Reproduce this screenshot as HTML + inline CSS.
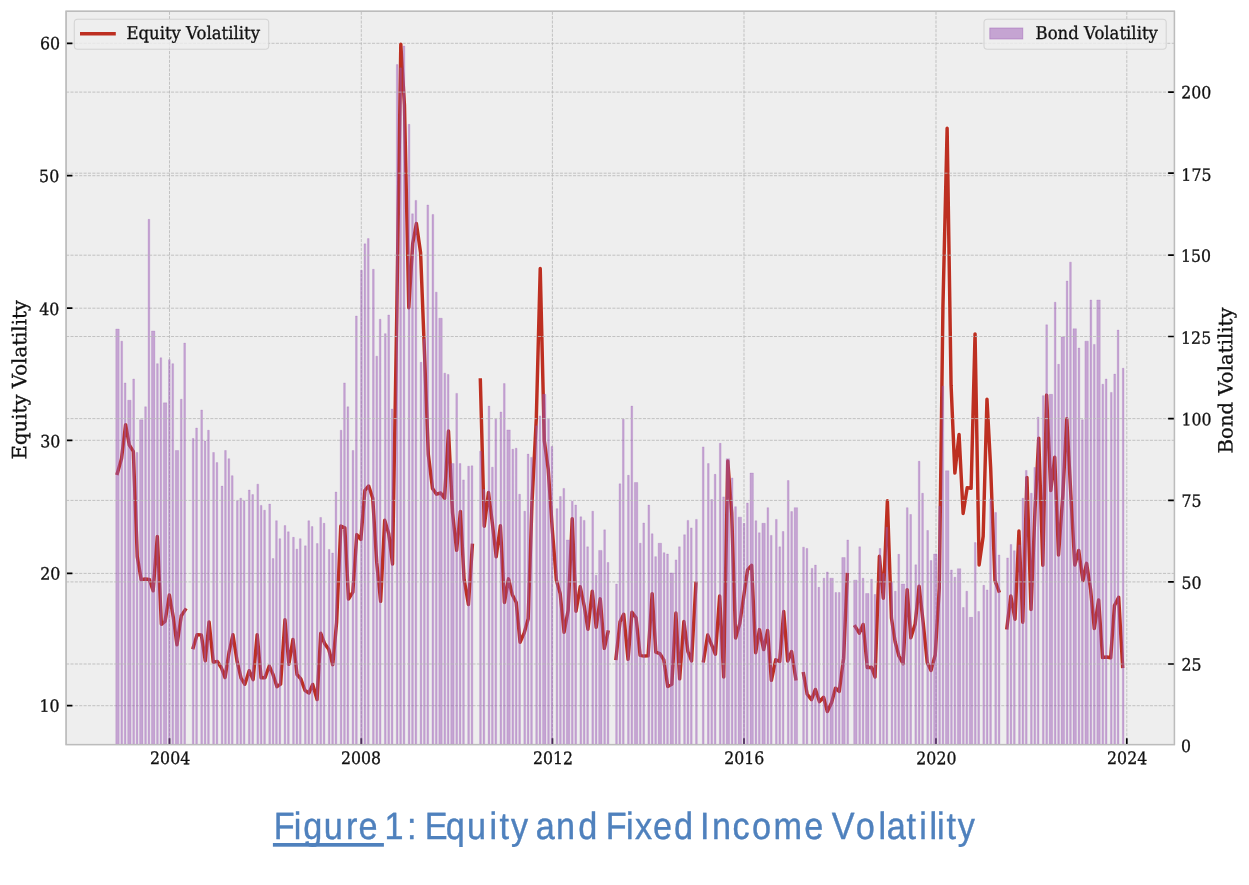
<!DOCTYPE html>
<html lang="en">
<head>
<meta charset="utf-8">
<title>Figure 1: Equity and Fixed Income Volatility</title>
<style>
html,body{margin:0;padding:0;background:#fff;}
body{width:1249px;height:885px;overflow:hidden;font-family:"Liberation Sans", sans-serif;}
svg{display:block;}
svg text{text-rendering:geometricPrecision;}
</style>
</head>
<body>
<svg width="1249" height="885" viewBox="0 0 1249 885" role="img" aria-label="Equity and Fixed Income Volatility chart">
<rect x="0" y="0" width="1249" height="885" fill="#ffffff"/>
<g>
<rect x="-5" y="-5" width="1259" height="790" fill="#ffffff"/>
<rect x="66.1" y="11.25" width="1108.35" height="733.35" fill="#eeeeee"/>
<clipPath id="ax"><rect x="66.1" y="11.25" width="1108.35" height="733.35"/></clipPath>
<path d="M169.50 744.6V11.25M361.30 744.6V11.25M552.40 744.6V11.25M744.00 744.6V11.25M936.00 744.6V11.25M1126.80 744.6V11.25M66.1 705.70H1174.45M66.1 573.40H1174.45M66.1 440.30H1174.45M66.1 308.20H1174.45M66.1 175.70H1174.45M66.1 43.30H1174.45" fill="none" stroke="#b9b9b9" stroke-width="0.85" stroke-dasharray="3.05 1.32"/>
<path d="M117.34 473.26L121.54 458.42L125.60 424.64L129.27 445.04L133.33 451.40L137.26 556.59L141.19 579.64L145.26 578.98L149.32 579.38L153.12 590.77L157.31 536.59L161.38 624.29L165.04 621.37L169.37 595.01L173.30 617.27L176.97 644.82L181.29 615.81L185.23 609.85M193.22 647.60L197.15 634.62L201.34 635.02L205.28 660.85L209.08 622.04L213.27 662.18L217.33 661.51L221.39 667.74L225.06 677.54L229.13 651.84L232.93 634.75L237.12 661.51L241.05 678.07L244.85 684.30L249.18 670.66L253.11 679.66L257.17 634.62L261.10 677.81L265.03 677.68L269.23 666.02L272.90 674.10L276.96 686.69L280.63 684.04L284.95 619.78L288.88 664.30L292.95 639.52L297.01 674.50L300.81 678.87L305.00 690.53L308.93 693.04L312.73 684.43L317.06 699.54L320.73 633.30L324.66 643.63L328.72 649.19L332.78 664.69L336.59 622.56L340.78 525.99L344.84 527.84L348.51 599.12L352.84 592.09L356.77 534.60L360.83 539.50L364.89 490.48L368.69 485.98L372.75 498.30L376.69 562.15L380.62 601.37L384.68 520.29L388.74 533.67L392.54 564.01L396.74 315.74L400.80 44.16L404.47 105.23L408.79 307.66L412.72 243.54L416.39 223.54L420.59 252.81L424.52 354.03L428.32 454.45L432.51 488.50L436.57 494.19L440.64 493.00L444.57 498.30L448.50 431.00L452.56 512.87L456.62 550.36L460.42 511.41L464.09 579.24L468.42 604.55L472.35 545.46M480.34 379.99L484.28 526.25L488.47 492.47L492.40 523.60L496.20 556.72L500.39 525.72L504.46 602.43L508.52 578.85L512.19 594.48L516.25 602.56L520.05 642.17L524.24 632.90L528.18 618.72L531.98 503.07L536.30 418.68L540.23 268.45L544.30 440.67L548.23 469.29L552.16 527.58L556.35 580.04L560.15 593.42L564.08 632.24L568.15 610.38L572.21 518.83L576.01 611.30L580.20 586.80L584.26 606.14L587.93 629.19L592.26 591.17L596.19 627.33L600.25 598.85L604.31 648.40L607.98 632.10M615.98 658.47L620.04 621.64L623.71 614.22L628.03 659.39L631.97 612.23L636.03 617.66L640.09 655.42L643.89 656.08L648.08 655.82L652.15 593.68L655.82 652.11L659.88 653.70L663.81 659.92L667.74 686.55L671.80 684.30L675.87 613.03L679.67 678.87L683.86 621.51L687.92 651.71L691.59 660.98L695.92 583.22M703.52 660.85L707.71 635.02L711.64 644.82L715.44 654.23L719.64 596.07L723.70 677.01L727.76 460.94L731.69 513.00L735.62 637.93L739.69 623.89L743.75 596.33L747.55 569.97L751.61 565.33L755.67 652.77L759.47 629.59L763.67 649.59L767.60 630.51L771.40 680.33L775.72 659.79L779.66 661.51L783.72 611.57L787.65 660.98L791.58 651.58L795.77 678.74M803.51 673.70L807.18 694.24L811.50 699.67L815.43 689.47L819.49 701.66L823.56 697.28L827.36 711.59L831.55 702.72L835.48 688.14L839.28 691.32L843.61 658.20L847.28 574.61M855.27 626.54L859.33 633.16L863.13 624.42L867.33 667.61L871.39 667.21L875.06 677.01L879.38 556.32L883.31 598.19L887.38 500.82L891.44 618.06L895.11 641.77L898.91 655.95L903.10 663.77L907.16 589.71L910.83 637.80L915.16 624.02L919.09 586.13L923.15 622.43L927.22 662.44L931.02 670.39L935.21 655.02L939.27 587.99L942.94 306.20L947.13 128.28L951.07 385.16L954.87 473.13L959.06 434.44L963.12 513.53L967.18 487.70L971.12 488.23L975.05 333.89L979.11 565.07L983.17 536.19L986.97 399.20L990.64 467.30L994.97 580.57L998.90 591.03M1006.89 627.86L1010.82 595.94L1015.02 619.25L1018.95 531.02L1022.75 622.17L1026.94 477.37L1031.00 609.45L1035.07 508.63L1038.74 438.15L1042.80 565.20L1046.60 395.10L1050.79 490.61L1054.72 457.23L1058.52 555.00L1062.85 494.85L1066.78 418.68L1070.84 494.72L1074.77 564.94L1078.71 550.50L1082.90 580.57L1086.57 563.35L1090.63 589.84L1094.30 628.53L1098.62 599.91L1102.56 657.54L1106.62 657.01L1110.68 657.80L1114.48 605.48L1118.68 597.26L1122.61 666.42" fill="none" stroke="#ffffff" stroke-opacity="0.22" stroke-width="5.65" stroke-linejoin="round" stroke-linecap="square" clip-path="url(#ax)"/>
<path d="M117.34 473.26L121.54 458.42L125.60 424.64L129.27 445.04L133.33 451.40L137.26 556.59L141.19 579.64L145.26 578.98L149.32 579.38L153.12 590.77L157.31 536.59L161.38 624.29L165.04 621.37L169.37 595.01L173.30 617.27L176.97 644.82L181.29 615.81L185.23 609.85M193.22 647.60L197.15 634.62L201.34 635.02L205.28 660.85L209.08 622.04L213.27 662.18L217.33 661.51L221.39 667.74L225.06 677.54L229.13 651.84L232.93 634.75L237.12 661.51L241.05 678.07L244.85 684.30L249.18 670.66L253.11 679.66L257.17 634.62L261.10 677.81L265.03 677.68L269.23 666.02L272.90 674.10L276.96 686.69L280.63 684.04L284.95 619.78L288.88 664.30L292.95 639.52L297.01 674.50L300.81 678.87L305.00 690.53L308.93 693.04L312.73 684.43L317.06 699.54L320.73 633.30L324.66 643.63L328.72 649.19L332.78 664.69L336.59 622.56L340.78 525.99L344.84 527.84L348.51 599.12L352.84 592.09L356.77 534.60L360.83 539.50L364.89 490.48L368.69 485.98L372.75 498.30L376.69 562.15L380.62 601.37L384.68 520.29L388.74 533.67L392.54 564.01L396.74 315.74L400.80 44.16L404.47 105.23L408.79 307.66L412.72 243.54L416.39 223.54L420.59 252.81L424.52 354.03L428.32 454.45L432.51 488.50L436.57 494.19L440.64 493.00L444.57 498.30L448.50 431.00L452.56 512.87L456.62 550.36L460.42 511.41L464.09 579.24L468.42 604.55L472.35 545.46M480.34 379.99L484.28 526.25L488.47 492.47L492.40 523.60L496.20 556.72L500.39 525.72L504.46 602.43L508.52 578.85L512.19 594.48L516.25 602.56L520.05 642.17L524.24 632.90L528.18 618.72L531.98 503.07L536.30 418.68L540.23 268.45L544.30 440.67L548.23 469.29L552.16 527.58L556.35 580.04L560.15 593.42L564.08 632.24L568.15 610.38L572.21 518.83L576.01 611.30L580.20 586.80L584.26 606.14L587.93 629.19L592.26 591.17L596.19 627.33L600.25 598.85L604.31 648.40L607.98 632.10M615.98 658.47L620.04 621.64L623.71 614.22L628.03 659.39L631.97 612.23L636.03 617.66L640.09 655.42L643.89 656.08L648.08 655.82L652.15 593.68L655.82 652.11L659.88 653.70L663.81 659.92L667.74 686.55L671.80 684.30L675.87 613.03L679.67 678.87L683.86 621.51L687.92 651.71L691.59 660.98L695.92 583.22M703.52 660.85L707.71 635.02L711.64 644.82L715.44 654.23L719.64 596.07L723.70 677.01L727.76 460.94L731.69 513.00L735.62 637.93L739.69 623.89L743.75 596.33L747.55 569.97L751.61 565.33L755.67 652.77L759.47 629.59L763.67 649.59L767.60 630.51L771.40 680.33L775.72 659.79L779.66 661.51L783.72 611.57L787.65 660.98L791.58 651.58L795.77 678.74M803.51 673.70L807.18 694.24L811.50 699.67L815.43 689.47L819.49 701.66L823.56 697.28L827.36 711.59L831.55 702.72L835.48 688.14L839.28 691.32L843.61 658.20L847.28 574.61M855.27 626.54L859.33 633.16L863.13 624.42L867.33 667.61L871.39 667.21L875.06 677.01L879.38 556.32L883.31 598.19L887.38 500.82L891.44 618.06L895.11 641.77L898.91 655.95L903.10 663.77L907.16 589.71L910.83 637.80L915.16 624.02L919.09 586.13L923.15 622.43L927.22 662.44L931.02 670.39L935.21 655.02L939.27 587.99L942.94 306.20L947.13 128.28L951.07 385.16L954.87 473.13L959.06 434.44L963.12 513.53L967.18 487.70L971.12 488.23L975.05 333.89L979.11 565.07L983.17 536.19L986.97 399.20L990.64 467.30L994.97 580.57L998.90 591.03M1006.89 627.86L1010.82 595.94L1015.02 619.25L1018.95 531.02L1022.75 622.17L1026.94 477.37L1031.00 609.45L1035.07 508.63L1038.74 438.15L1042.80 565.20L1046.60 395.10L1050.79 490.61L1054.72 457.23L1058.52 555.00L1062.85 494.85L1066.78 418.68L1070.84 494.72L1074.77 564.94L1078.71 550.50L1082.90 580.57L1086.57 563.35L1090.63 589.84L1094.30 628.53L1098.62 599.91L1102.56 657.54L1106.62 657.01L1110.68 657.80L1114.48 605.48L1118.68 597.26L1122.61 666.42" fill="none" stroke="#bd2f21" stroke-width="3.45" stroke-linejoin="round" stroke-linecap="square" clip-path="url(#ax)"/>
<path d="M66.1 705.70h6.3M66.1 573.40h6.3M66.1 440.30h6.3M66.1 308.20h6.3M66.1 175.70h6.3M66.1 43.30h6.3M169.50 744.6v-6.3M361.30 744.6v-6.3M552.40 744.6v-6.3M744.00 744.6v-6.3M936.00 744.6v-6.3M1126.80 744.6v-6.3" fill="none" stroke="#000" stroke-width="1.7"/>
<rect x="66.1" y="11.25" width="1108.35" height="733.35" fill="none" stroke="#bcbcbc" stroke-width="1.3"/>
<rect x="74.3" y="19.3" width="194.40" height="29.90" rx="3.3" ry="3.3" fill="#eeeeee" fill-opacity="0.8" stroke="#cfcfcf" stroke-opacity="0.85" stroke-width="1.05"/>
<path d="M80 33.7H115.8" stroke="#bd2f21" stroke-width="3.45" fill="none"/>
<text transform="translate(126.40 38.90) skewY(0.1) scale(1.0 1.07)" text-anchor="start" font-family='"DejaVu Serif", "Liberation Serif", serif' font-size="16.5" fill="#111111" stroke="#111111" stroke-width="0.3">Equity Volatility</text>
<path d="M115.79 746.6V329.07H119.19V746.6zM120.89 746.6V341.15H122.59V746.6zM124.29 746.6V382.94H125.99V746.6zM127.69 746.6V400.24H131.09V746.6zM132.79 746.6V379.02H134.49V746.6zM136.19 746.6V452.48H137.89V746.6zM139.59 746.6V419.83H142.99V746.6zM144.69 746.6V406.77H146.39V746.6zM148.09 746.6V219.36H149.79V746.6zM151.49 746.6V331.02H154.89V746.6zM156.59 746.6V363.67H158.29V746.6zM159.99 746.6V357.80H161.69V746.6zM163.39 746.6V402.85H166.79V746.6zM168.49 746.6V359.76H170.19V746.6zM171.89 746.6V363.67H173.60V746.6zM175.30 746.6V450.52H178.70V746.6zM180.40 746.6V399.26H182.10V746.6zM183.80 746.6V343.11H185.50V746.6zM192.30 746.6V438.44H194.00V746.6zM195.70 746.6V428.00H197.40V746.6zM200.80 746.6V410.04H202.50V746.6zM204.20 746.6V441.06H205.90V746.6zM207.60 746.6V430.28H209.30V746.6zM212.70 746.6V452.48H214.40V746.6zM216.10 746.6V462.60H217.80V746.6zM221.20 746.6V486.11H222.90V746.6zM224.60 746.6V450.52H226.30V746.6zM228.00 746.6V458.69H229.70V746.6zM231.40 746.6V475.66H233.10V746.6zM236.50 746.6V500.80H238.20V746.6zM239.90 746.6V498.19H241.60V746.6zM243.31 746.6V500.80H245.01V746.6zM248.41 746.6V490.03H250.11V746.6zM251.81 746.6V494.60H253.51V746.6zM256.91 746.6V484.15H258.61V746.6zM260.31 746.6V505.38H262.01V746.6zM263.71 746.6V510.27H265.41V746.6zM268.81 746.6V504.07H270.51V746.6zM272.21 746.6V558.60H273.91V746.6zM275.61 746.6V520.72H277.31V746.6zM279.01 746.6V538.68H280.71V746.6zM284.11 746.6V525.62H285.81V746.6zM287.51 746.6V531.82H289.21V746.6zM292.61 746.6V537.37H294.31V746.6zM296.01 746.6V549.13H297.71V746.6zM299.41 746.6V538.68H301.11V746.6zM304.51 746.6V545.86H306.21V746.6zM307.91 746.6V520.72H309.61V746.6zM311.31 746.6V526.60H313.01V746.6zM316.42 746.6V543.58H318.12V746.6zM319.82 746.6V517.46H321.52V746.6zM323.22 746.6V523.33H324.92V746.6zM328.32 746.6V549.45H330.02V746.6zM331.72 746.6V553.04H333.42V746.6zM335.12 746.6V491.99H336.82V746.6zM340.22 746.6V430.28H341.92V746.6zM343.62 746.6V382.94H345.32V746.6zM347.02 746.6V406.77H348.72V746.6zM352.12 746.6V450.52H353.82V746.6zM355.52 746.6V316.01H357.22V746.6zM360.62 746.6V270.30H362.32V746.6zM364.02 746.6V243.85H365.72V746.6zM367.42 746.6V238.62H369.12V746.6zM372.52 746.6V269.32H374.22V746.6zM375.92 746.6V356.17H377.62V746.6zM379.32 746.6V319.27H381.02V746.6zM384.43 746.6V333.64H386.13V746.6zM387.83 746.6V315.03H389.53V746.6zM391.23 746.6V409.06H392.93V746.6zM396.33 746.6V64.60H398.03V746.6zM399.73 746.6V67.87H401.43V746.6zM403.13 746.6V45.99H404.83V746.6zM408.23 746.6V124.35H409.93V746.6zM411.63 746.6V213.81H413.33V746.6zM415.03 746.6V200.42H416.73V746.6zM420.13 746.6V362.37H421.83V746.6zM423.53 746.6V338.86H425.23V746.6zM426.93 746.6V205.00H428.63V746.6zM432.03 746.6V214.46H433.73V746.6zM435.43 746.6V292.17H437.13V746.6zM438.83 746.6V318.29H442.23V746.6zM443.93 746.6V373.14H445.63V746.6zM447.33 746.6V374.45H449.03V746.6zM450.73 746.6V463.58H454.13V746.6zM455.84 746.6V393.39H457.54V746.6zM459.24 746.6V463.58H460.94V746.6zM462.64 746.6V479.91H464.34V746.6zM467.74 746.6V466.20H469.44V746.6zM471.14 746.6V465.87H472.84V746.6zM479.64 746.6V451.18H481.34V746.6zM483.04 746.6V489.38H484.74V746.6zM488.14 746.6V406.12H489.84V746.6zM491.54 746.6V467.18H493.24V746.6zM494.94 746.6V419.18H496.64V746.6zM500.04 746.6V412.00H501.74V746.6zM503.44 746.6V383.59H505.14V746.6zM506.84 746.6V429.95H510.24V746.6zM511.94 746.6V449.22H513.64V746.6zM515.34 746.6V448.24H517.04V746.6zM518.74 746.6V494.27H520.44V746.6zM523.84 746.6V511.25H525.54V746.6zM527.25 746.6V454.12H528.95V746.6zM530.65 746.6V457.38H532.35V746.6zM535.75 746.6V425.71H537.45V746.6zM539.15 746.6V415.91H540.85V746.6zM542.55 746.6V394.37H545.95V746.6zM547.65 746.6V419.18H549.35V746.6zM551.05 746.6V446.61H552.75V746.6zM556.15 746.6V508.64H557.85V746.6zM559.55 746.6V496.56H561.25V746.6zM562.95 746.6V488.40H564.65V746.6zM566.35 746.6V539.98H569.75V746.6zM571.45 746.6V501.13H573.15V746.6zM574.85 746.6V505.05H576.55V746.6zM579.95 746.6V516.80H581.65V746.6zM583.35 746.6V520.39H585.05V746.6zM586.75 746.6V546.84H588.45V746.6zM591.85 746.6V511.25H593.55V746.6zM595.25 746.6V575.25H596.96V746.6zM598.66 746.6V550.43H602.06V746.6zM603.76 746.6V529.86H605.46V746.6zM607.16 746.6V562.51H608.86V746.6zM615.66 746.6V584.06H617.36V746.6zM619.06 746.6V483.83H620.76V746.6zM622.46 746.6V419.18H624.16V746.6zM627.56 746.6V475.34H629.26V746.6zM630.96 746.6V406.12H632.66V746.6zM634.36 746.6V482.52H637.76V746.6zM639.46 746.6V543.25H641.16V746.6zM642.86 746.6V523.01H644.56V746.6zM647.96 746.6V505.05H649.66V746.6zM651.36 746.6V533.78H653.06V746.6zM654.76 746.6V556.64H656.46V746.6zM658.16 746.6V543.25H661.56V746.6zM663.26 746.6V552.72H664.96V746.6zM666.66 746.6V554.02H668.37V746.6zM670.07 746.6V572.96H673.47V746.6zM675.17 746.6V559.90H676.87V746.6zM678.57 746.6V546.84H680.27V746.6zM683.67 746.6V534.76H685.37V746.6zM687.07 746.6V520.39H688.77V746.6zM690.47 746.6V527.90H692.17V746.6zM695.57 746.6V519.42H697.27V746.6zM702.37 746.6V446.93H704.07V746.6zM707.47 746.6V463.58H709.17V746.6zM710.87 746.6V499.50H712.57V746.6zM714.27 746.6V474.36H715.97V746.6zM719.37 746.6V443.34H721.07V746.6zM722.77 746.6V496.89H724.47V746.6zM726.17 746.6V458.69H729.57V746.6zM731.27 746.6V477.95H732.97V746.6zM734.67 746.6V506.68H736.37V746.6zM738.08 746.6V517.13H741.48V746.6zM743.18 746.6V523.33H744.88V746.6zM746.58 746.6V503.09H748.28V746.6zM749.98 746.6V473.05H753.38V746.6zM755.08 746.6V520.72H756.78V746.6zM758.48 746.6V532.80H760.18V746.6zM761.88 746.6V523.33H765.28V746.6zM766.98 746.6V507.66H768.68V746.6zM770.38 746.6V535.41H772.08V746.6zM775.48 746.6V519.42H777.18V746.6zM778.88 746.6V546.84H780.58V746.6zM782.28 746.6V531.50H783.98V746.6zM787.38 746.6V480.56H789.08V746.6zM790.78 746.6V511.58H792.48V746.6zM794.18 746.6V507.66H797.58V746.6zM802.68 746.6V547.17H804.38V746.6zM806.08 746.6V548.47H807.78V746.6zM811.19 746.6V568.39H812.89V746.6zM814.59 746.6V565.12H816.29V746.6zM817.99 746.6V587.33H819.69V746.6zM823.09 746.6V578.19H824.79V746.6zM826.49 746.6V571.98H828.19V746.6zM829.89 746.6V578.19H833.29V746.6zM834.99 746.6V592.55H836.69V746.6zM838.39 746.6V592.55H840.09V746.6zM841.79 746.6V557.62H845.19V746.6zM846.89 746.6V539.98H848.59V746.6zM853.69 746.6V580.14H857.09V746.6zM858.79 746.6V546.84H860.49V746.6zM862.19 746.6V578.19H863.89V746.6zM865.59 746.6V593.53H868.99V746.6zM870.69 746.6V579.16H872.39V746.6zM874.09 746.6V594.51H875.79V746.6zM879.20 746.6V548.47H880.90V746.6zM882.60 746.6V573.61H884.30V746.6zM886.00 746.6V527.25H887.70V746.6zM891.10 746.6V582.43H892.80V746.6zM894.50 746.6V591.25H896.20V746.6zM897.90 746.6V554.35H899.60V746.6zM901.30 746.6V584.06H904.70V746.6zM906.40 746.6V507.66H908.10V746.6zM909.80 746.6V514.52H911.50V746.6zM914.90 746.6V564.80H916.60V746.6zM918.30 746.6V461.30H920.00V746.6zM921.70 746.6V493.30H923.40V746.6zM926.80 746.6V530.52H928.50V746.6zM930.20 746.6V560.55H931.90V746.6zM933.60 746.6V554.02H937.00V746.6zM938.70 746.6V506.36H940.40V746.6zM942.10 746.6V386.20H943.80V746.6zM945.50 746.6V470.77H948.90V746.6zM950.61 746.6V570.02H952.31V746.6zM954.01 746.6V577.21H955.71V746.6zM957.41 746.6V568.72H960.81V746.6zM962.51 746.6V607.57H964.21V746.6zM965.91 746.6V591.25H967.61V746.6zM969.31 746.6V617.37H972.71V746.6zM974.41 746.6V542.60H976.11V746.6zM977.81 746.6V611.49H979.51V746.6zM982.91 746.6V585.37H984.61V746.6zM986.31 746.6V589.94H988.01V746.6zM989.71 746.6V498.85H991.41V746.6zM994.81 746.6V512.56H996.51V746.6zM998.21 746.6V555.00H999.91V746.6zM1006.71 746.6V557.94H1008.41V746.6zM1010.11 746.6V544.56H1011.81V746.6zM1013.51 746.6V550.76H1015.21V746.6zM1018.61 746.6V544.88H1020.31V746.6zM1022.02 746.6V498.19H1023.72V746.6zM1025.42 746.6V470.44H1027.12V746.6zM1030.52 746.6V493.30H1032.22V746.6zM1033.92 746.6V467.50H1035.62V746.6zM1037.32 746.6V417.22H1039.02V746.6zM1042.42 746.6V395.67H1044.12V746.6zM1045.82 746.6V324.82H1047.52V746.6zM1049.22 746.6V394.37H1052.62V746.6zM1054.32 746.6V302.29H1056.02V746.6zM1057.72 746.6V364.33H1059.42V746.6zM1061.12 746.6V336.90H1064.52V746.6zM1066.22 746.6V281.07H1067.92V746.6zM1069.62 746.6V262.13H1071.32V746.6zM1073.02 746.6V328.74H1076.42V746.6zM1078.12 746.6V348.00H1079.82V746.6zM1081.52 746.6V419.83H1083.22V746.6zM1084.92 746.6V341.15H1088.32V746.6zM1090.02 746.6V300.01H1091.73V746.6zM1093.43 746.6V344.41H1095.13V746.6zM1096.83 746.6V300.01H1100.23V746.6zM1101.93 746.6V384.24H1103.63V746.6zM1105.33 746.6V379.02H1107.03V746.6zM1110.43 746.6V392.41H1112.13V746.6zM1113.83 746.6V374.12H1115.53V746.6zM1117.23 746.6V330.05H1118.93V746.6zM1122.33 746.6V368.25H1124.03V746.6z" fill="#9b59b6" fill-opacity="0.5" stroke="#9b59b6" stroke-opacity="0.5" stroke-width="0.442" clip-path="url(#ax)"/>
<path d="M66.1 745.00H1174.45M66.1 664.00H1174.45M66.1 581.90H1174.45M66.1 500.40H1174.45M66.1 418.60H1174.45M66.1 336.50H1174.45M66.1 255.20H1174.45M66.1 173.20H1174.45M66.1 92.10H1174.45" fill="none" stroke="#b9b9b9" stroke-width="0.85" stroke-dasharray="3.05 1.32" clip-path="url(#ax)"/>
<path d="M1174.45 745.00h-6.3M1174.45 664.00h-6.3M1174.45 581.90h-6.3M1174.45 500.40h-6.3M1174.45 418.60h-6.3M1174.45 336.50h-6.3M1174.45 255.20h-6.3M1174.45 173.20h-6.3M1174.45 92.10h-6.3" fill="none" stroke="#000" stroke-width="1.7" clip-path="url(#ax)"/>
<rect x="66.1" y="11.25" width="1108.35" height="733.35" fill="none" stroke="#bcbcbc" stroke-width="1.3"/>
<rect x="984.0" y="19.3" width="182.20" height="29.90" rx="3.3" ry="3.3" fill="#eeeeee" fill-opacity="0.8" stroke="#cfcfcf" stroke-opacity="0.85" stroke-width="1.05"/>
<rect x="989.8" y="28.0" width="33" height="11.0" fill="#9b59b6" fill-opacity="0.5" stroke="#9b59b6" stroke-opacity="0.5" stroke-width="0.85"/>
<text transform="translate(1035.50 38.90) skewY(0.1) scale(1.0 1.07)" text-anchor="start" font-family='"DejaVu Serif", "Liberation Serif", serif' font-size="16.5" fill="#111111" stroke="#111111" stroke-width="0.3">Bond Volatility</text>
<text transform="translate(59.64 711.76) skewY(0.1) scale(0.96 1.03)" text-anchor="end" font-family='"DejaVu Serif", "Liberation Serif", serif' font-size="16.5" fill="#111111" stroke="#111111" stroke-width="0.3">10</text>
<text transform="translate(60.45 579.51) skewY(0.1) scale(0.96 1.03)" text-anchor="end" font-family='"DejaVu Serif", "Liberation Serif", serif' font-size="16.5" fill="#111111" stroke="#111111" stroke-width="0.3">20</text>
<text transform="translate(60.38 447.36) skewY(0.1) scale(0.96 1.03)" text-anchor="end" font-family='"DejaVu Serif", "Liberation Serif", serif' font-size="16.5" fill="#111111" stroke="#111111" stroke-width="0.3">30</text>
<text transform="translate(59.37 315.03) skewY(0.1) scale(0.96 1.03)" text-anchor="end" font-family='"DejaVu Serif", "Liberation Serif", serif' font-size="16.5" fill="#111111" stroke="#111111" stroke-width="0.3">40</text>
<text transform="translate(59.25 182.06) skewY(0.1) scale(0.96 1.03)" text-anchor="end" font-family='"DejaVu Serif", "Liberation Serif", serif' font-size="16.5" fill="#111111" stroke="#111111" stroke-width="0.3">50</text>
<text transform="translate(60.18 49.39) skewY(0.1) scale(0.96 1.03)" text-anchor="end" font-family='"DejaVu Serif", "Liberation Serif", serif' font-size="16.5" fill="#111111" stroke="#111111" stroke-width="0.3">60</text>
<text transform="translate(1181.11 752.00) skewY(0.1) scale(0.955 1.03)" text-anchor="start" font-family='"DejaVu Serif", "Liberation Serif", serif' font-size="16.5" fill="#111111" stroke="#111111" stroke-width="0.3">0</text>
<text transform="translate(1181.55 670.48) skewY(0.1) scale(0.955 1.03)" text-anchor="start" font-family='"DejaVu Serif", "Liberation Serif", serif' font-size="16.5" fill="#111111" stroke="#111111" stroke-width="0.3">25</text>
<text transform="translate(1181.55 588.74) skewY(0.1) scale(0.955 1.03)" text-anchor="start" font-family='"DejaVu Serif", "Liberation Serif", serif' font-size="16.5" fill="#111111" stroke="#111111" stroke-width="0.3">50</text>
<text transform="translate(1181.55 506.70) skewY(0.1) scale(0.955 1.03)" text-anchor="start" font-family='"DejaVu Serif", "Liberation Serif", serif' font-size="16.5" fill="#111111" stroke="#111111" stroke-width="0.3">75</text>
<text transform="translate(1181.55 425.19) skewY(0.1) scale(0.955 1.03)" text-anchor="start" font-family='"DejaVu Serif", "Liberation Serif", serif' font-size="16.5" fill="#111111" stroke="#111111" stroke-width="0.3">100</text>
<text transform="translate(1181.09 343.74) skewY(0.1) scale(0.955 1.03)" text-anchor="start" font-family='"DejaVu Serif", "Liberation Serif", serif' font-size="16.5" fill="#111111" stroke="#111111" stroke-width="0.3">125</text>
<text transform="translate(1181.05 261.64) skewY(0.1) scale(0.955 1.03)" text-anchor="start" font-family='"DejaVu Serif", "Liberation Serif", serif' font-size="16.5" fill="#111111" stroke="#111111" stroke-width="0.3">150</text>
<text transform="translate(1181.35 180.64) skewY(0.1) scale(0.955 1.03)" text-anchor="start" font-family='"DejaVu Serif", "Liberation Serif", serif' font-size="16.5" fill="#111111" stroke="#111111" stroke-width="0.3">175</text>
<text transform="translate(1181.28 98.35) skewY(0.1) scale(0.955 1.03)" text-anchor="start" font-family='"DejaVu Serif", "Liberation Serif", serif' font-size="16.5" fill="#111111" stroke="#111111" stroke-width="0.3">200</text>
<text transform="translate(170.14 764.11) skewY(0.1) scale(0.955 1.05)" text-anchor="middle" font-family='"DejaVu Serif", "Liberation Serif", serif' font-size="16.5" fill="#111111" stroke="#111111" stroke-width="0.3">2004</text>
<text transform="translate(360.97 764.10) skewY(0.1) scale(0.955 1.05)" text-anchor="middle" font-family='"DejaVu Serif", "Liberation Serif", serif' font-size="16.5" fill="#111111" stroke="#111111" stroke-width="0.3">2008</text>
<text transform="translate(553.03 764.11) skewY(0.1) scale(0.955 1.05)" text-anchor="middle" font-family='"DejaVu Serif", "Liberation Serif", serif' font-size="16.5" fill="#111111" stroke="#111111" stroke-width="0.3">2012</text>
<text transform="translate(744.34 764.10) skewY(0.1) scale(0.955 1.05)" text-anchor="middle" font-family='"DejaVu Serif", "Liberation Serif", serif' font-size="16.5" fill="#111111" stroke="#111111" stroke-width="0.3">2016</text>
<text transform="translate(936.38 764.18) skewY(0.1) scale(0.955 1.05)" text-anchor="middle" font-family='"DejaVu Serif", "Liberation Serif", serif' font-size="16.5" fill="#111111" stroke="#111111" stroke-width="0.3">2020</text>
<text transform="translate(1127.13 764.12) skewY(0.1) scale(0.955 1.05)" text-anchor="middle" font-family='"DejaVu Serif", "Liberation Serif", serif' font-size="16.5" fill="#111111" stroke="#111111" stroke-width="0.3">2024</text>
<text transform="translate(26.20 379.70) rotate(-90.06) scale(1 1.0)" text-anchor="middle" font-family='"DejaVu Serif", "Liberation Serif", serif' font-size="19.7" fill="#111111" stroke="#111111" stroke-width="0.3">Equity Volatility</text>
<text transform="translate(1232.40 380.40) rotate(-90.06) scale(1 1.0)" text-anchor="middle" font-family='"DejaVu Serif", "Liberation Serif", serif' font-size="19.7" fill="#111111" stroke="#111111" stroke-width="0.3">Bond Volatility</text>
</g>
<g font-family='"Liberation Sans", sans-serif' font-size="38.0" fill="#4f81bd">
</g>
<g font-family='"Liberation Sans", sans-serif' font-size="38.0" fill="#4f81bd" stroke="#4f81bd" stroke-width="0.4">
<text transform="translate(0 838.9) scale(0.9 1)" x="304.11 326.29 336.92 359.74 384.45 398.41" y="0">Figure</text>
<text transform="translate(0 838.9) scale(0.9 1)" x="427.30 452.17" y="0">1:</text>
<text transform="translate(0 838.9) scale(0.9 1)" x="471.88 495.18 518.96 544.01 554.91 567.66" y="0">Equity</text>
<text transform="translate(0 838.9) scale(0.9 1)" x="595.27 617.79 642.47" y="0">and</text>
<text transform="translate(0 838.9) scale(0.9 1)" x="673.11 695.45 705.49 725.64 748.92" y="0">Fixed</text>
<text transform="translate(0 838.9) scale(0.9 1)" x="777.78 791.02 813.86 835.66 859.33 893.69" y="0">Income</text>
<text transform="translate(0 838.9) scale(0.9 1)" x="924.28 950.82 976.05 985.16 1007.24 1021.34 1032.83 1041.01 1051.57 1064.27" y="0">Volatility</text>
</g>
<rect x="272.9" y="843.0" width="111.0" height="3.7" fill="#4f81bd"/>
</svg>
</body>
</html>
